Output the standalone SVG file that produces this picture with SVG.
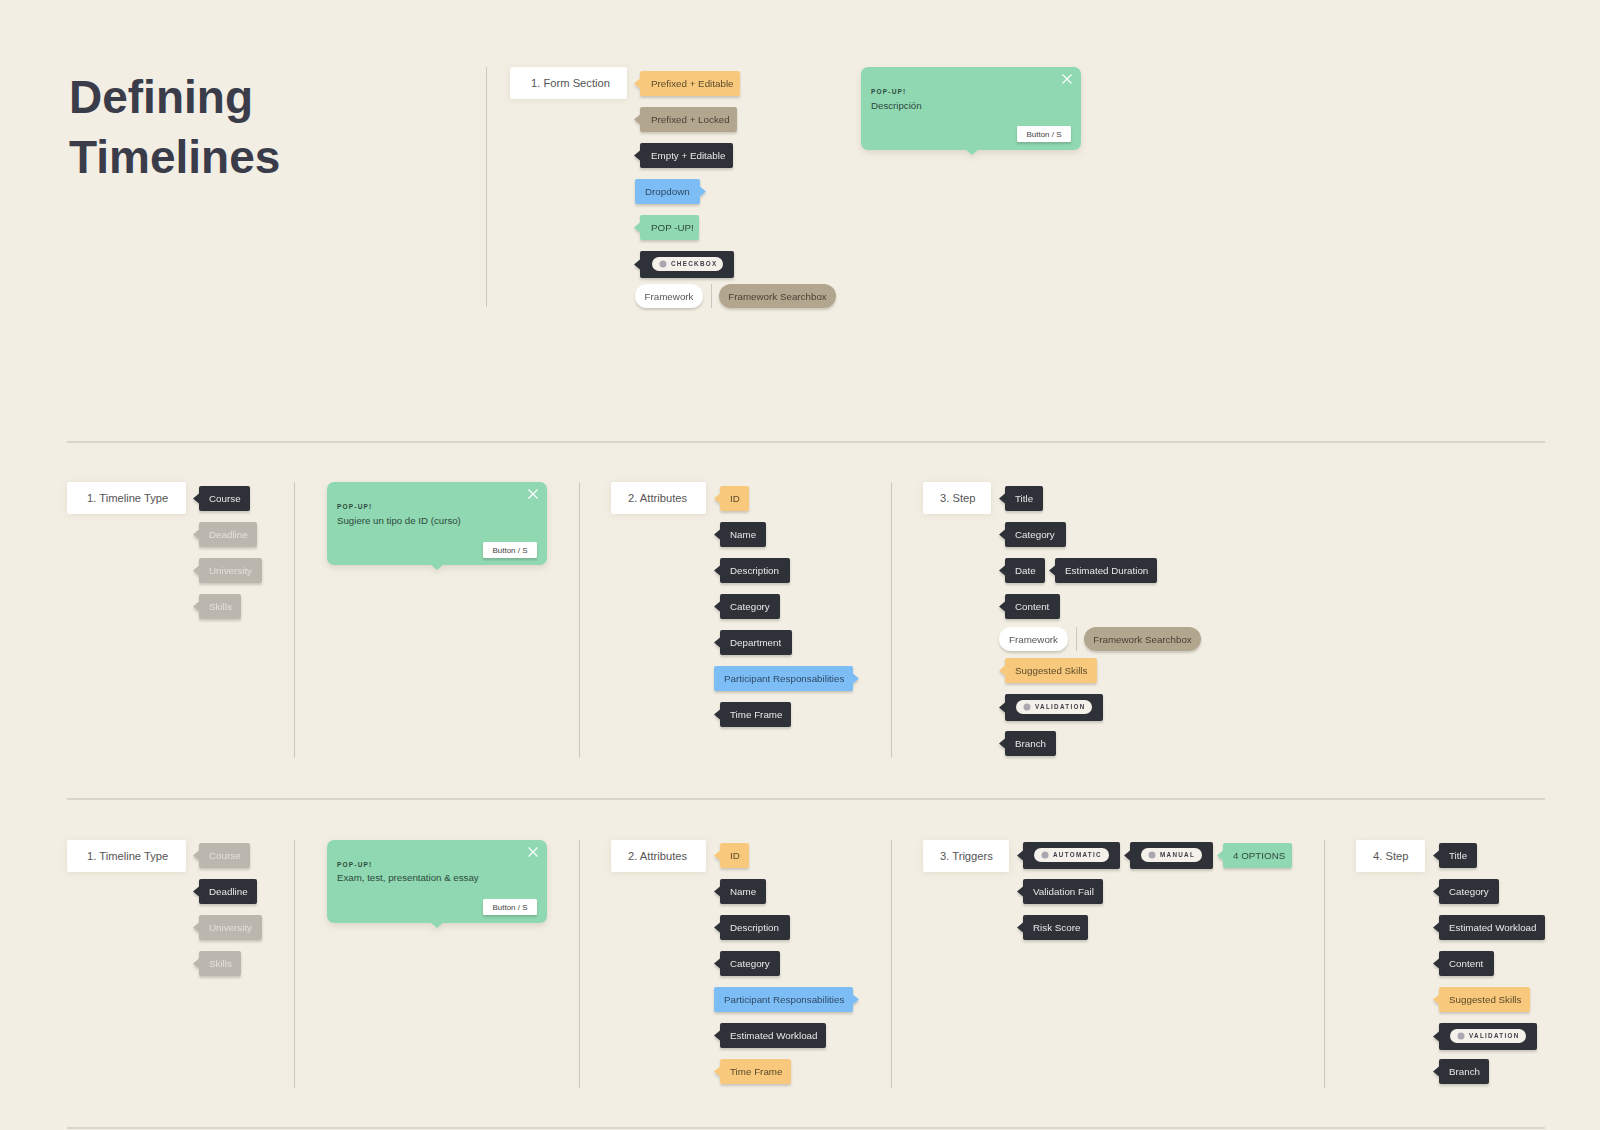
<svg xmlns="http://www.w3.org/2000/svg" width="1600" height="1130" viewBox="0 0 1600 1130">
<defs>
<filter id="sh" x="-20%" y="-30%" width="140%" height="170%"><feDropShadow dx="0" dy="2" stdDeviation="1.2" flood-color="#3a3020" flood-opacity="0.22"/></filter>
<filter id="gl" x="-20%" y="-40%" width="140%" height="180%"><feDropShadow dx="0" dy="1" stdDeviation="3" flood-color="#b8a880" flood-opacity="0.25"/></filter>
<filter id="ps" x="-10%" y="-15%" width="120%" height="140%"><feDropShadow dx="0" dy="3" stdDeviation="3" flood-color="#a09070" flood-opacity="0.25"/></filter>
<style>
text{font-family:"Liberation Sans",Arial,sans-serif}
.dk{fill:#2f3038}.yl{fill:#f8c97b}.tp{fill:#b3a68f}.bl{fill:#7dbdf6}.gr{fill:#8fd8b2}.gy{fill:#bbb7ae}.wh{fill:#ffffff}
.t{font-size:9.8px}
.tw{fill:#e8e8ea}.ty{fill:#5b4a2c}.tt{fill:#4a4134}.tb{fill:#2f4a66}.tg{fill:#2e4a3c}.tx{fill:#e4e1da}.tn{fill:#555555}
.hd{font-size:11.2px;fill:#555555}
.cb{font-size:6.3px;font-weight:bold;letter-spacing:1.3px;fill:#3c3c46}
.pill{fill:#f4f1ea}
.dot{fill:#a9a8b0}
.pu{font-size:6.5px;font-weight:bold;letter-spacing:1.2px;fill:#2e4a3c}
.pt{font-size:9.7px;fill:#2e4a3c}
.btt{font-size:8px;fill:#444444}
.x{stroke:#ffffff;stroke-width:1.2;fill:none}
.vl{stroke:#cfc8ba;stroke-width:1}
.hl{stroke:#d4cdbe;stroke-width:1.5}
.ttl{font-family:"Liberation Sans",Arial,sans-serif;font-weight:700;font-size:46px;fill:#3a3c4a}
</style>
</defs>
<rect width="1600" height="1130" fill="#f2eee4"/>

<g id="title">
<text class="ttl" x="69" y="113">Defining</text>
<text class="ttl" x="69" y="173">Timelines</text>
</g>

<g id="dividers">
<line class="vl" x1="486.5" y1="67" x2="486.5" y2="307"/>
<line class="hl" x1="67" y1="442" x2="1545" y2="442"/>
<line class="hl" x1="67" y1="799" x2="1545" y2="799"/>
<line class="hl" x1="67" y1="1128" x2="1545" y2="1128"/>
<line class="vl" x1="294.5" y1="482" x2="294.5" y2="758"/>
<line class="vl" x1="579.5" y1="482" x2="579.5" y2="758"/>
<line class="vl" x1="891.5" y1="482" x2="891.5" y2="758"/>
<line class="vl" x1="294.5" y1="840" x2="294.5" y2="1088"/>
<line class="vl" x1="579.5" y1="840" x2="579.5" y2="1088"/>
<line class="vl" x1="891.5" y1="840" x2="891.5" y2="1088"/>
<line class="vl" x1="1324.5" y1="840" x2="1324.5" y2="1088"/>
<line class="vl" x1="711.5" y1="284" x2="711.5" y2="308"/>
<line class="vl" x1="1076.5" y1="627" x2="1076.5" y2="651"/>
</g>
<g id="connectors"/>

<!-- Legend section -->
<g id="form-section"><rect class="wh" x="510" y="67" width="117" height="32" rx="2" filter="url(#gl)"/><text class="hd" x="531" y="87">1. Form Section</text></g>
<g id="prefixed-editable" filter="url(#sh)"><path class="yl" d="M640 78.5L634 83.5L640 88.5Z"/><rect class="yl" x="640" y="71" width="100" height="25" rx="2"/><text class="t ty" x="651" y="87">Prefixed + Editable</text></g>
<g id="prefixed-locked" filter="url(#sh)"><path class="tp" d="M640 114.5L634 119.5L640 124.5Z"/><rect class="tp" x="640" y="107" width="97" height="25" rx="2"/><text class="t tt" x="651" y="123">Prefixed + Locked</text></g>
<g id="empty-editable" filter="url(#sh)"><path class="dk" d="M640 150.5L634 155.5L640 160.5Z"/><rect class="dk" x="640" y="143" width="93" height="25" rx="2"/><text class="t tw" x="651" y="159">Empty + Editable</text></g>
<g id="dropdown" filter="url(#sh)"><path class="bl" d="M700 186.5L706 191.5L700 196.5Z"/><rect class="bl" x="635" y="179" width="65" height="25" rx="2"/><text class="t tb" x="645" y="195">Dropdown</text></g>
<g id="popup-tag" filter="url(#sh)"><path class="gr" d="M640 222.5L634 227.5L640 232.5Z"/><rect class="gr" x="640" y="215" width="59" height="25" rx="2"/><text class="t tg" x="651" y="231">POP -UP!</text></g>
<g id="checkbox" filter="url(#sh)"><path class="dk" d="M640 259.5L634 264.5L640 269.5Z"/><rect class="dk" x="640" y="251" width="94" height="27" rx="2"/><rect class="pill" x="652" y="257" width="71" height="14" rx="7"/><circle class="dot" cx="663" cy="264" r="3.5"/><text class="cb" x="671" y="266.3">CHECKBOX</text></g>
<g id="framework-top" filter="url(#sh)"><rect class="wh" x="635" y="284" width="68" height="24" rx="12"/><text class="t tn" x="669" y="300" text-anchor="middle">Framework</text></g>
<g id="framework-searchbox-top" filter="url(#sh)"><rect class="tp" x="719" y="284" width="117" height="24" rx="12"/><text class="t tt" x="777.5" y="300" text-anchor="middle">Framework Searchbox</text></g>
<g id="popup-top"><g filter="url(#ps)"><rect class="gr" x="861" y="67" width="220" height="83" rx="7"/><path class="gr" d="M965 149L972 155L979 149Z"/></g><text class="pu" x="871" y="94">POP-UP!</text><text class="pt" x="871" y="109">Descripción</text><path class="x" d="M1062.5 74.5L1071.5 83.5M1071.5 74.5L1062.5 83.5"/><rect class="wh" x="1017" y="126" width="54" height="16" rx="1.5" filter="url(#sh)"/><text class="btt" x="1044" y="137" text-anchor="middle">Button / S</text></g>

<!-- Row 2 -->
<g id="r2-timeline-type"><rect class="wh" x="67" y="482" width="119" height="32" rx="2" filter="url(#gl)"/><text class="hd" x="87" y="502">1. Timeline Type</text></g>
<g id="r2-course" filter="url(#sh)"><path class="dk" d="M199 493.5L193 498.5L199 503.5Z"/><rect class="dk" x="199" y="486" width="51" height="25" rx="2"/><text class="t tw" x="209" y="502">Course</text></g>
<g id="r2-deadline" filter="url(#sh)"><path class="gy" d="M199 529.5L193 534.5L199 539.5Z"/><rect class="gy" x="199" y="522" width="58" height="25" rx="2"/><text class="t tx" x="209" y="538">Deadline</text></g>
<g id="r2-university" filter="url(#sh)"><path class="gy" d="M199 565.5L193 570.5L199 575.5Z"/><rect class="gy" x="199" y="558" width="63" height="25" rx="2"/><text class="t tx" x="209" y="574">University</text></g>
<g id="r2-skills" filter="url(#sh)"><path class="gy" d="M199 601.5L193 606.5L199 611.5Z"/><rect class="gy" x="199" y="594" width="42" height="25" rx="2"/><text class="t tx" x="209" y="610">Skills</text></g>
<g id="r2-popup"><g filter="url(#ps)"><rect class="gr" x="327" y="482" width="220" height="83" rx="7"/><path class="gr" d="M430 564L437 570L444 564Z"/></g><text class="pu" x="337" y="509">POP-UP!</text><text class="pt" x="337" y="524">Sugiere un tipo de ID (curso)</text><path class="x" d="M528.5 489.5L537.5 498.5M537.5 489.5L528.5 498.5"/><rect class="wh" x="483" y="542" width="54" height="16" rx="1.5" filter="url(#sh)"/><text class="btt" x="510" y="553" text-anchor="middle">Button / S</text></g>
<g id="r2-attributes"><rect class="wh" x="611" y="482" width="95" height="32" rx="2" filter="url(#gl)"/><text class="hd" x="628" y="502">2. Attributes</text></g>
<g id="r2-id" filter="url(#sh)"><path class="yl" d="M720 493.5L714 498.5L720 503.5Z"/><rect class="yl" x="720" y="486" width="29" height="25" rx="2"/><text class="t ty" x="730" y="502">ID</text></g>
<g id="r2-name" filter="url(#sh)"><path class="dk" d="M720 529.5L714 534.5L720 539.5Z"/><rect class="dk" x="720" y="522" width="46" height="25" rx="2"/><text class="t tw" x="730" y="538">Name</text></g>
<g id="r2-description" filter="url(#sh)"><path class="dk" d="M720 565.5L714 570.5L720 575.5Z"/><rect class="dk" x="720" y="558" width="70" height="25" rx="2"/><text class="t tw" x="730" y="574">Description</text></g>
<g id="r2-category" filter="url(#sh)"><path class="dk" d="M720 601.5L714 606.5L720 611.5Z"/><rect class="dk" x="720" y="594" width="60" height="25" rx="2"/><text class="t tw" x="730" y="610">Category</text></g>
<g id="r2-department" filter="url(#sh)"><path class="dk" d="M720 637.5L714 642.5L720 647.5Z"/><rect class="dk" x="720" y="630" width="72" height="25" rx="2"/><text class="t tw" x="730" y="646">Department</text></g>
<g id="r2-participant" filter="url(#sh)"><path class="bl" d="M853 673.5L859 678.5L853 683.5Z"/><rect class="bl" x="714" y="666" width="139" height="25" rx="2"/><text class="t tb" x="724" y="682">Participant Responsabilities</text></g>
<g id="r2-timeframe" filter="url(#sh)"><path class="dk" d="M720 709.5L714 714.5L720 719.5Z"/><rect class="dk" x="720" y="702" width="71" height="25" rx="2"/><text class="t tw" x="730" y="718">Time Frame</text></g>
<g id="r2-step"><rect class="wh" x="923" y="482" width="68" height="32" rx="2" filter="url(#gl)"/><text class="hd" x="940" y="502">3. Step</text></g>
<g id="r2-title" filter="url(#sh)"><path class="dk" d="M1005 493.5L999 498.5L1005 503.5Z"/><rect class="dk" x="1005" y="486" width="38" height="25" rx="2"/><text class="t tw" x="1015" y="502">Title</text></g>
<g id="r2-step-category" filter="url(#sh)"><path class="dk" d="M1005 529.5L999 534.5L1005 539.5Z"/><rect class="dk" x="1005" y="522" width="61" height="25" rx="2"/><text class="t tw" x="1015" y="538">Category</text></g>
<g id="r2-date" filter="url(#sh)"><path class="dk" d="M1005 565.5L999 570.5L1005 575.5Z"/><rect class="dk" x="1005" y="558" width="40" height="25" rx="2"/><text class="t tw" x="1015" y="574">Date</text></g>
<g id="r2-estimated-duration" filter="url(#sh)"><path class="dk" d="M1055 565.5L1049 570.5L1055 575.5Z"/><rect class="dk" x="1055" y="558" width="102" height="25" rx="2"/><text class="t tw" x="1065" y="574">Estimated Duration</text></g>
<g id="r2-content" filter="url(#sh)"><path class="dk" d="M1005 601.5L999 606.5L1005 611.5Z"/><rect class="dk" x="1005" y="594" width="55" height="25" rx="2"/><text class="t tw" x="1015" y="610">Content</text></g>
<g id="r2-framework" filter="url(#sh)"><rect class="wh" x="999" y="627" width="69" height="24" rx="12"/><text class="t tn" x="1033.5" y="643" text-anchor="middle">Framework</text></g>
<g id="r2-framework-searchbox" filter="url(#sh)"><rect class="tp" x="1084" y="627" width="117" height="24" rx="12"/><text class="t tt" x="1142.5" y="643" text-anchor="middle">Framework Searchbox</text></g>
<g id="r2-suggested-skills" filter="url(#sh)"><path class="yl" d="M1005 665.5L999 670.5L1005 675.5Z"/><rect class="yl" x="1005" y="658" width="92" height="25" rx="2"/><text class="t ty" x="1015" y="674">Suggested Skills</text></g>
<g id="r2-validation" filter="url(#sh)"><path class="dk" d="M1005 702.5L999 707.5L1005 712.5Z"/><rect class="dk" x="1005" y="694" width="98" height="27" rx="2"/><rect class="pill" x="1016" y="700" width="76" height="14" rx="7"/><circle class="dot" cx="1027" cy="707" r="3.5"/><text class="cb" x="1035" y="709.3">VALIDATION</text></g>
<g id="r2-branch" filter="url(#sh)"><path class="dk" d="M1005 738.5L999 743.5L1005 748.5Z"/><rect class="dk" x="1005" y="731" width="51" height="25" rx="2"/><text class="t tw" x="1015" y="747">Branch</text></g>

<!-- Row 3 -->
<g id="r3-timeline-type"><rect class="wh" x="67" y="840" width="119" height="32" rx="2" filter="url(#gl)"/><text class="hd" x="87" y="860">1. Timeline Type</text></g>
<g id="r3-course" filter="url(#sh)"><path class="gy" d="M199 850.5L193 855.5L199 860.5Z"/><rect class="gy" x="199" y="843" width="51" height="25" rx="2"/><text class="t tx" x="209" y="859">Course</text></g>
<g id="r3-deadline" filter="url(#sh)"><path class="dk" d="M199 886.5L193 891.5L199 896.5Z"/><rect class="dk" x="199" y="879" width="58" height="25" rx="2"/><text class="t tw" x="209" y="895">Deadline</text></g>
<g id="r3-university" filter="url(#sh)"><path class="gy" d="M199 922.5L193 927.5L199 932.5Z"/><rect class="gy" x="199" y="915" width="63" height="25" rx="2"/><text class="t tx" x="209" y="931">University</text></g>
<g id="r3-skills" filter="url(#sh)"><path class="gy" d="M199 958.5L193 963.5L199 968.5Z"/><rect class="gy" x="199" y="951" width="42" height="25" rx="2"/><text class="t tx" x="209" y="967">Skills</text></g>
<g id="r3-popup"><g filter="url(#ps)"><rect class="gr" x="327" y="840" width="220" height="83" rx="7"/><path class="gr" d="M430 922L437 928L444 922Z"/></g><text class="pu" x="337" y="867">POP-UP!</text><text class="pt" x="337" y="881">Exam, test, presentation &amp; essay</text><path class="x" d="M528.5 847.5L537.5 856.5M537.5 847.5L528.5 856.5"/><rect class="wh" x="483" y="899" width="54" height="16" rx="1.5" filter="url(#sh)"/><text class="btt" x="510" y="910" text-anchor="middle">Button / S</text></g>
<g id="r3-attributes"><rect class="wh" x="611" y="840" width="95" height="32" rx="2" filter="url(#gl)"/><text class="hd" x="628" y="860">2. Attributes</text></g>
<g id="r3-id" filter="url(#sh)"><path class="yl" d="M720 850.5L714 855.5L720 860.5Z"/><rect class="yl" x="720" y="843" width="29" height="25" rx="2"/><text class="t ty" x="730" y="859">ID</text></g>
<g id="r3-name" filter="url(#sh)"><path class="dk" d="M720 886.5L714 891.5L720 896.5Z"/><rect class="dk" x="720" y="879" width="46" height="25" rx="2"/><text class="t tw" x="730" y="895">Name</text></g>
<g id="r3-description" filter="url(#sh)"><path class="dk" d="M720 922.5L714 927.5L720 932.5Z"/><rect class="dk" x="720" y="915" width="70" height="25" rx="2"/><text class="t tw" x="730" y="931">Description</text></g>
<g id="r3-category" filter="url(#sh)"><path class="dk" d="M720 958.5L714 963.5L720 968.5Z"/><rect class="dk" x="720" y="951" width="60" height="25" rx="2"/><text class="t tw" x="730" y="967">Category</text></g>
<g id="r3-participant" filter="url(#sh)"><path class="bl" d="M853 994.5L859 999.5L853 1004.5Z"/><rect class="bl" x="714" y="987" width="139" height="25" rx="2"/><text class="t tb" x="724" y="1003">Participant Responsabilities</text></g>
<g id="r3-estimated-workload" filter="url(#sh)"><path class="dk" d="M720 1030.5L714 1035.5L720 1040.5Z"/><rect class="dk" x="720" y="1023" width="106" height="25" rx="2"/><text class="t tw" x="730" y="1039">Estimated Workload</text></g>
<g id="r3-timeframe" filter="url(#sh)"><path class="yl" d="M720 1066.5L714 1071.5L720 1076.5Z"/><rect class="yl" x="720" y="1059" width="71" height="25" rx="2"/><text class="t ty" x="730" y="1075">Time Frame</text></g>
<g id="r3-triggers"><rect class="wh" x="923" y="840" width="86" height="32" rx="2" filter="url(#gl)"/><text class="hd" x="940" y="860">3. Triggers</text></g>
<g id="r3-automatic" filter="url(#sh)"><path class="dk" d="M1023 850.5L1017 855.5L1023 860.5Z"/><rect class="dk" x="1023" y="842" width="97" height="27" rx="2"/><rect class="pill" x="1034" y="848" width="75" height="14" rx="7"/><circle class="dot" cx="1045" cy="855" r="3.5"/><text class="cb" x="1053" y="857.3">AUTOMATIC</text></g>
<g id="r3-manual" filter="url(#sh)"><path class="dk" d="M1130 850.5L1124 855.5L1130 860.5Z"/><rect class="dk" x="1130" y="842" width="83" height="27" rx="2"/><rect class="pill" x="1141" y="848" width="61" height="14" rx="7"/><circle class="dot" cx="1152" cy="855" r="3.5"/><text class="cb" x="1160" y="857.3">MANUAL</text></g>
<g id="r3-4options" filter="url(#sh)"><path class="gr" d="M1223 850.5L1217 855.5L1223 860.5Z"/><rect class="gr" x="1223" y="843" width="69" height="25" rx="2"/><text class="t tg" x="1233" y="859">4 OPTIONS</text></g>
<g id="r3-validation-fail" filter="url(#sh)"><path class="dk" d="M1023 886.5L1017 891.5L1023 896.5Z"/><rect class="dk" x="1023" y="879" width="80" height="25" rx="2"/><text class="t tw" x="1033" y="895">Validation Fail</text></g>
<g id="r3-risk-score" filter="url(#sh)"><path class="dk" d="M1023 922.5L1017 927.5L1023 932.5Z"/><rect class="dk" x="1023" y="915" width="65" height="25" rx="2"/><text class="t tw" x="1033" y="931">Risk Score</text></g>
<g id="r3-step"><rect class="wh" x="1356" y="840" width="69" height="32" rx="2" filter="url(#gl)"/><text class="hd" x="1373" y="860">4. Step</text></g>
<g id="r3-title" filter="url(#sh)"><path class="dk" d="M1439 850.5L1433 855.5L1439 860.5Z"/><rect class="dk" x="1439" y="843" width="38" height="25" rx="2"/><text class="t tw" x="1449" y="859">Title</text></g>
<g id="r3-step-category" filter="url(#sh)"><path class="dk" d="M1439 886.5L1433 891.5L1439 896.5Z"/><rect class="dk" x="1439" y="879" width="60" height="25" rx="2"/><text class="t tw" x="1449" y="895">Category</text></g>
<g id="r3-step-workload" filter="url(#sh)"><path class="dk" d="M1439 922.5L1433 927.5L1439 932.5Z"/><rect class="dk" x="1439" y="915" width="106" height="25" rx="2"/><text class="t tw" x="1449" y="931">Estimated Workload</text></g>
<g id="r3-content" filter="url(#sh)"><path class="dk" d="M1439 958.5L1433 963.5L1439 968.5Z"/><rect class="dk" x="1439" y="951" width="55" height="25" rx="2"/><text class="t tw" x="1449" y="967">Content</text></g>
<g id="r3-suggested-skills" filter="url(#sh)"><path class="yl" d="M1439 994.5L1433 999.5L1439 1004.5Z"/><rect class="yl" x="1439" y="987" width="91" height="25" rx="2"/><text class="t ty" x="1449" y="1003">Suggested Skills</text></g>
<g id="r3-validation" filter="url(#sh)"><path class="dk" d="M1439 1031.5L1433 1036.5L1439 1041.5Z"/><rect class="dk" x="1439" y="1023" width="98" height="27" rx="2"/><rect class="pill" x="1450" y="1029" width="76" height="14" rx="7"/><circle class="dot" cx="1461" cy="1036" r="3.5"/><text class="cb" x="1469" y="1038.3">VALIDATION</text></g>
<g id="r3-branch" filter="url(#sh)"><path class="dk" d="M1439 1066.5L1433 1071.5L1439 1076.5Z"/><rect class="dk" x="1439" y="1059" width="50" height="25" rx="2"/><text class="t tw" x="1449" y="1075">Branch</text></g>
</svg>
